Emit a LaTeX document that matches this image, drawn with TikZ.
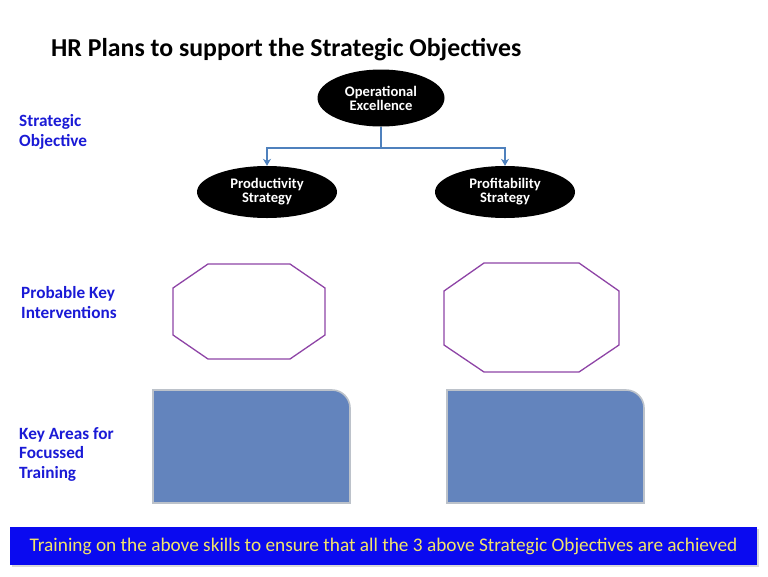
\documentclass[tikz,border=0pt]{standalone}
\usepackage{fontspec}
\setmainfont{Carlito}
\usetikzlibrary{shapes.geometric,arrows.meta,shadows}
\definecolor{lblblue}{HTML}{1A1AD6}
\definecolor{linkblue}{HTML}{4F81BD}
\definecolor{octpurple}{HTML}{8E44A6}
\definecolor{boxfill}{HTML}{6384BD}
\definecolor{boxedge}{HTML}{BCC2CA}
\definecolor{bannerblue}{HTML}{0A0AF0}
\definecolor{banneryellow}{HTML}{F2E46A}
\begin{document}
\begin{tikzpicture}[x=1pt,y=-1pt,
  oval/.style={ellipse,fill=black,text=white,font=\fontsize{14.6}{14}\selectfont\bfseries,align=center,inner sep=0pt,minimum width=#1},
  sidelabel/.style={anchor=base west,text=lblblue,font=\fontsize{17.2}{19.6}\selectfont\bfseries,align=left,inner sep=0pt},
  link/.style={draw=linkblue,line width=2.2pt,-{Stealth[length=7pt,width=8pt]}},
  octo/.style={draw=octpurple,line width=1.3pt,line join=miter},
  area/.style={fill=boxfill,draw=boxedge,line width=1.6pt}]
\useasboundingbox (0,0) rectangle (768,576);
\fill[white] (0,0) rectangle (768,576);

\node[anchor=base west,inner sep=0pt,font=\fontsize{25.8}{30}\selectfont\bfseries] (title) at (51,56) {HR Plans to support the Strategic Objectives};

\node[sidelabel] (l1) at (19,146) {Strategic\\Objective};
\node[sidelabel] (l2) at (21,318) {Probable Key\\Interventions};
\node[sidelabel] (l3) at (19,478.5) {Key Areas for\\Focussed\\Training};

\node[oval=127pt,minimum height=57pt] (oe) at (381,98) {Operational\\Excellence};
\node[oval=140pt,minimum height=52pt] (ps) at (267,192) {Productivity\\Strategy};
\node[oval=140pt,minimum height=52pt] (pf) at (505,192) {Profitability\\Strategy};

\coordinate (jn) at (381,148);
\draw[link] (oe.south) -- (jn) -| (ps.north);
\draw[link] (jn) -| (pf.north);

\draw[octo] (208,264) -- (290,264) -- (325,288) -- (325,335) -- (290,359) -- (208,359) -- (173,335) -- (173,288) -- cycle;
\draw[octo] (484,263) -- (579,263) -- (619,291) -- (619,345) -- (579,372) -- (484,372) -- (444,345) -- (444,291) -- cycle;

\draw[area] (153,503) -- (153,390) [rounded corners=18pt] -- (350,390) [sharp corners] -- (350,503) -- cycle;
\draw[area] (447,503) -- (447,390) [rounded corners=18pt] -- (644,390) [sharp corners] -- (644,503) -- cycle;

\node[fill=bannerblue,text=banneryellow,minimum width=747pt,minimum height=38pt,inner sep=0pt,
  font=\fontsize{19.3}{20}\selectfont,drop shadow={shadow xshift=2pt,shadow yshift=-2pt,fill=gray!60}] (banner) at (383.5,546)
  {Training on the above skills to ensure that all the 3 above Strategic Objectives are achieved};
\end{tikzpicture}
\end{document}
